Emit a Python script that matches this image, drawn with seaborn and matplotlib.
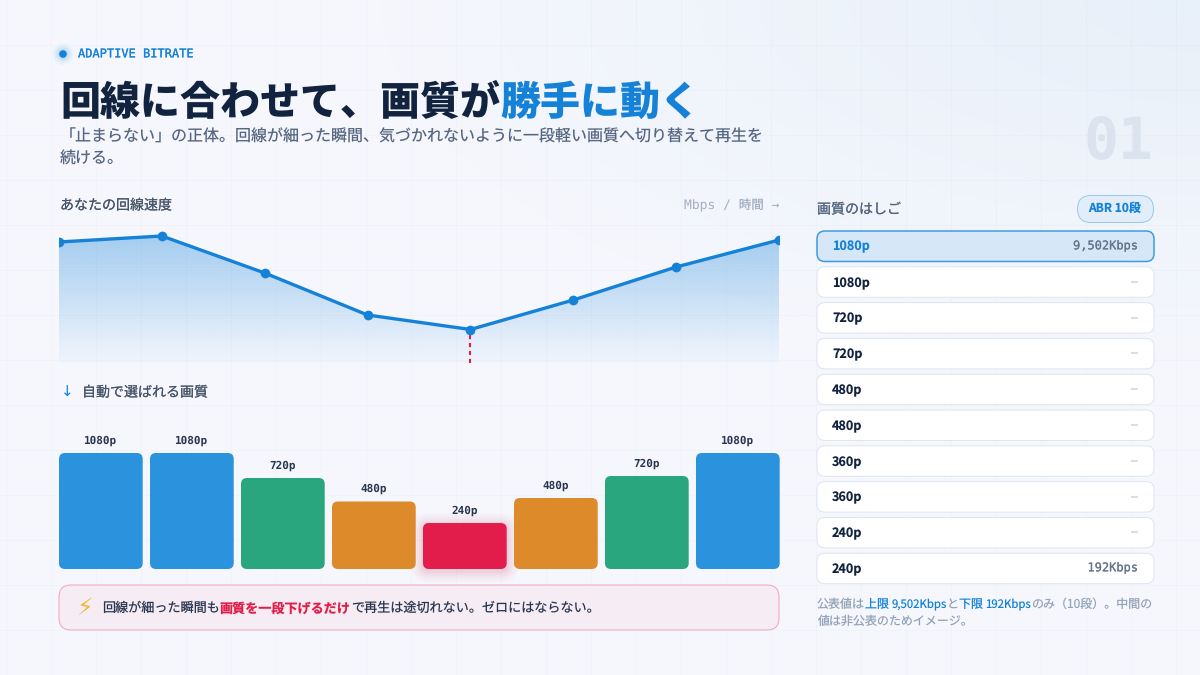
import numpy as np
import pandas as pd
import matplotlib
matplotlib.use("Agg")
import matplotlib.pyplot as plt
import matplotlib.patheffects as pe
from matplotlib.patches import FancyBboxPatch, Circle
import seaborn as sns

# data
time_slots = [0, 1, 2, 3, 4, 5, 6, 7]
speed_mbps = [12.1, 12.7, 9.0, 4.8, 3.35, 6.3, 9.6, 12.3]
bar_quality = ["1080p", "1080p", "720p", "480p", "240p", "480p", "720p", "1080p"]
bar_height = [116, 116, 91, 67.5, 46, 71, 93, 116]
quality_colors = {"1080p": "#2b92de", "720p": "#29a67e", "480p": "#dd8a2b", "240p": "#e21d4b"}
ladder_quality = ["1080p", "1080p", "720p", "720p", "480p", "480p", "360p", "360p", "240p", "240p"]
ladder_rate = ["9,502Kbps", "—", "—", "—", "—", "—", "—", "—", "—", "192Kbps"]

W, H = 1200, 675
BLUE = "#1582d8"
RED = "#e11d48"
NAVY = "#12233f"
JP = ["Noto Sans CJK JP", "DejaVu Sans"]
MONO = ["DejaVu Sans Mono", "Noto Sans CJK JP"]

sns.set_theme(style="white")
plt.rcParams["font.family"] = JP
plt.rcParams["text.hinting"] = "no_hinting"
plt.rcParams["text.hinting_factor"] = 1

fig = plt.figure(figsize=(12, 6.75), dpi=100)
renderer = fig.canvas.get_renderer()


def px_axes(x0, y0, x1, y1, z):
    a = fig.add_axes([x0 / W, 1 - y1 / H, (x1 - x0) / W, (y1 - y0) / H], zorder=z)
    a.patch.set_alpha(0)
    a.set_axis_off()
    return a


# background with soft blue corner and faint grid
bg = px_axes(0, 0, W, H, 0)
yy, xx = np.mgrid[0:H, 0:W]
t = np.clip(1 - np.hypot((W - xx) / 820, yy / 360), 0, 1)[..., None]
base = np.array([245, 247, 253]) / 255
corner = np.array([232, 240, 249]) / 255
bg.imshow(base * (1 - t) + corner * t, extent=(0, W, H, 0), aspect="auto", interpolation="bilinear")
for gx in range(6, W, 45):
    bg.axvline(gx, color="#5a7fb0", alpha=0.03, lw=0.8)
for gy in range(45, H, 45):
    bg.axhline(gy, color="#5a7fb0", alpha=0.03, lw=0.8)
bg.set_xlim(0, W)
bg.set_ylim(H, 0)

# overlay in pixel coordinates for text and cards
ov = px_axes(0, 0, W, H, 3)
ov.set_xlim(0, W)
ov.set_ylim(H, 0)


def card(x0, y0, x1, y1, r, face, edge="none", lw=1.0, alpha=1.0, z=2):
    p = FancyBboxPatch((x0 + r, y0 + r), x1 - x0 - 2 * r, y1 - y0 - 2 * r,
                       boxstyle=f"round,pad={r},rounding_size={r}",
                       fc=face, ec=edge, lw=lw * 0.72, alpha=alpha, zorder=z)
    ov.add_patch(p)
    return p


def label(x, y, s, px, color, weight="regular", family=JP, ha="left", thick=0):
    # the CJK font sits a bit high with va=center
    dy = px * 0.1 if family is JP else 0
    tx = ov.text(x, y + dy, s, fontsize=px * 0.72, color=color, fontweight=weight,
                 family=family, ha=ha, va="center", zorder=5)
    if thick:
        tx.set_path_effects([pe.withStroke(linewidth=thick, foreground=color)])
    return tx


def runs(x, y, parts, px, family=JP, thick=0):
    # colored pieces on one line, each one starts where the last ended
    for s, color, weight in parts:
        tx = label(x, y, s, px, color, weight, family, thick=thick if weight == "regular" else 0)
        x += tx.get_window_extent(renderer).width
    return x


# header
for r, a in zip([11, 9, 7, 5], [0.03, 0.05, 0.07, 0.1]):
    ov.add_patch(Circle((63, 54), r, fc=BLUE, alpha=a, lw=0))
ov.add_patch(Circle((63, 54), 3.8, fc=BLUE, lw=0))
label(78, 54, "ADAPTIVE BITRATE", 12, BLUE, family=MONO, thick=0.15)
runs(60, 99, [("回線に合わせて、画質が", NAVY, "black"), ("勝手に動く", BLUE, "black")], 40)
label(60, 135.5, "「止まらない」の正体。回線が細った瞬間、気づかれないように一段軽い画質へ切り替えて再生を", 16, "#566680")
label(60, 157.5, "続ける。", 16, "#566680")
label(1153, 142, "01", 58, "#dae3ee", "bold", MONO, ha="right")

# speed line
label(60, 204, "あなたの回線速度", 14, "#475569", thick=0.1)
label(779, 205, "Mbps / 時間 →", 12.5, "#a3afc2", family=MONO, ha="right")

ax_line = px_axes(59, 225, 779, 363, 1)
sns.lineplot(x=time_slots, y=speed_mbps, color=BLUE, lw=2.4, marker="o", markersize=7,
             markeredgewidth=0, ax=ax_line)
area = ax_line.fill_between(time_slots, speed_mbps, 0, fc="none", lw=0)
grad = np.zeros((256, 2, 4))
grad[..., :3] = matplotlib.colors.to_rgb(BLUE)
grad[..., 3] = np.linspace(0.36, 0.02, 256)[:, None]
im = ax_line.imshow(grad, extent=(0, 7, 0, 12.7), aspect="auto", zorder=0, origin="upper")
im.set_clip_path(area.get_paths()[0], transform=ax_line.transData)
ax_line.set_xlim(0, 7)
ax_line.set_ylim(0, 13.8)
ax_line.vlines(time_slots[4], 0, speed_mbps[4], color=RED, lw=1.5, linestyles=(0, (2, 1.8)), zorder=1.5)

# chosen quality bars
label(67, 392, "↓", 15, BLUE, family=["DejaVu Sans"], ha="center")
label(82, 391, "自動で選ばれる画質", 14, "#475569", thick=0.1)

ax_bar = px_axes(59, 420, 779.7, 569, 1)
df = pd.DataFrame({"slot": time_slots, "height": bar_height, "quality": bar_quality})
sns.barplot(data=df, x="slot", y="height", hue="quality", palette=quality_colors, dodge=False,
            width=0.92, saturation=1, legend=False, ax=ax_bar)
ax_bar.set_xlim(-0.46, 7.46)
ax_bar.set_ylim(0, 149)
ax_bar.set_axis_off()
fig.canvas.draw()
red_hex = matplotlib.colors.to_hex(quality_colors["240p"])
for p in ax_bar.patches:
    if not p.get_height():
        continue
    # rounded copy of the seaborn bar, same geometry
    (x0, y0), (x1, y1) = ax_bar.transData.transform([(p.get_x(), 0), (p.get_x() + p.get_width(), p.get_height())])
    top, bottom = H - y1, H - y0
    col = p.get_facecolor()
    if matplotlib.colors.to_hex(col) == red_hex:
        for g, a in zip([12, 10, 8, 6, 4, 2], [0.015, 0.02, 0.025, 0.03, 0.04, 0.05]):
            card(x0 - g, top - g + 2, x1 + g, bottom + g + 2, 6 + g, RED, alpha=a)
    card(x0, top, x1, bottom, 6, col, z=3)
    p.set_visible(False)
for slot, q, h_ in zip(time_slots, bar_quality, bar_height):
    cx = ax_bar.transData.transform((slot, 0))[0]
    label(cx, 569 - h_ - 12.5, q, 11, "#2a3650", "bold", MONO, ha="center")

# callout
card(59, 585, 779, 630, 12, "#f6edf4", "#f0a5ba", 1)
label(85, 608, "⚡", 24, "#f5b73d", family=["DejaVu Sans"], ha="center")
runs(102, 607, [("回線が細った瞬間も", "#2a3650", "regular"), ("画質を一段下げるだけ", RED, "bold"),
                ("で再生は途切れない。ゼロにはならない。", "#2a3650", "regular")], 13.1)

# ladder
label(817, 208, "画質のはしご", 14, "#566680", thick=0.1)
card(1077.5, 195.5, 1153.5, 222.5, 13.5, "#e1eefa", "#9cc8ea", 1)
label(1115, 207.5, "ABR 10段", 12, BLUE, "bold", ha="center")
for i, (q, rate) in enumerate(zip(ladder_quality, ladder_rate)):
    top = 231 + i * 35.8
    first = i == 0
    card(817, top, 1154, top + 30.5, 8, "#d6e8f8" if first else "white",
         "#3e9ade" if first else "#dfe5f0", 1.5 if first else 1)
    label(832, top + (14 if first else 15), q, 12.6, BLUE if first else "#12233f", "bold")
    dash = rate == "—"
    label(1138, round(top + 15), rate, 12, "#64748b", "regular", MONO,
          ha="right", thick=0.35 if dash else 0.1)

GREY = "#94a3b8"
fx = runs(817, 603, [("公表値は", GREY, "regular"), ("上限 ", BLUE, "regular")], 12)
fx = runs(fx, 603, [("9,502Kbps", BLUE, "regular")], 11.4)
fx = runs(fx, 603, [("と", GREY, "regular"), ("下限 ", BLUE, "regular")], 12)
fx = runs(fx, 603, [("192Kbps", BLUE, "regular")], 11.4)
runs(fx, 603, [("のみ（10段）。中間の", GREY, "regular")], 12)
label(817, 620, "値は非公表のためイメージ。", 12, GREY)

fig.savefig("out.png", dpi=100)
